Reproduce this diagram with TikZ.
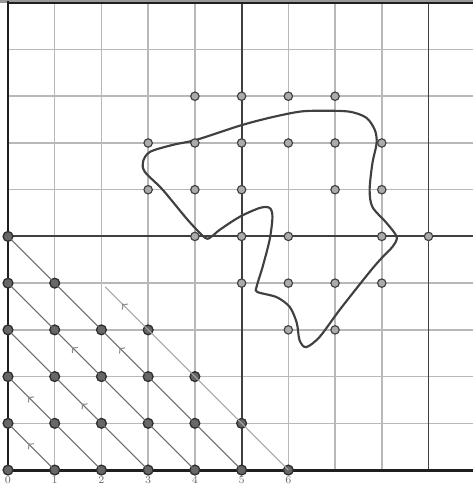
\documentclass[tikz,border=0pt]{standalone}
\usetikzlibrary{arrows}
\usetikzlibrary{decorations.markings}

\begin{document}
\begin{tikzpicture}
	\tikzstyle{thin line}=[draw=black!28, line width=0.95pt]
	\tikzstyle{dark line}=[draw=black!75, line width=1.15pt]
	\tikzstyle{axis}=[draw=black!88, line width=1.8pt]
	\tikzstyle{diag}=[draw=black!58, line width=0.65pt]
	\tikzstyle{lat}=[circle, draw=black!82, fill=black!60, line width=0.8pt, inner sep=0pt, minimum size=2.1mm]
	\tikzstyle{near}=[circle, draw=black!75, fill=black!33, line width=0.7pt, inner sep=0pt, minimum size=1.8mm]
	\tikzstyle{tick}=[font=\fontsize{6.5}{7}\selectfont, text=black!60, inner sep=0pt]
	\tikzstyle{blob}=[draw=black!75, line width=1.3pt]
	\tikzstyle{back}=[postaction={decorate}, decoration={markings, mark=at position #1 with {\arrow[black!45, scale=1.2]{<}}}]

	\useasboundingbox (-0.171,-0.32) rectangle (9.96,10.06);

	% grid
	\foreach \i in {1,2,3,4,6,7,8}
		\draw[thin line] (\i,0) -- (\i,10);
	\foreach \j in {1,2,3,4,6,7,8,9}
		\draw[thin line] (0,\j) -- (9.96,\j);
	\draw[dark line] (5,0) -- (5,10);
	\draw[dark line] (9,0) -- (9,10);
	\draw[dark line] (0,5) -- (9.96,5);
	\fill[black!40] (-0.171,10) rectangle (9.96,10.06);
	\draw[axis] (0,0) -- (9.96,0);
	\draw[axis] (0,-0.1) -- (0,10.03);
	\draw[axis, line width=1.2pt] (0,10) -- (9.96,10);

	% lattice points under the diagonal
	\foreach \j/\n in {0/6,1/5,2/4,3/3,4/1,5/0}
		\foreach \i in {0,...,\n}
			\node[lat] (p-\i-\j) at (\i,\j) {};

	\foreach \i in {0,...,6}
		\node[tick] (l\i) at (\i,-0.21) {\i};

	% diagonals
	\draw[diag, back=0.5] (p-0-1.center) -- (p-1-0.center);
	\draw[diag, back=0.25] (p-0-2.center) -- (p-2-0.center);
	\draw[diag, back=0.55] (p-0-3.center) -- (p-3-0.center);
	\draw[diag, back=0.36] (p-0-4.center) -- (p-4-0.center);
	\draw[diag, back=0.49] (p-0-5.center) -- (p-5-0.center);
	\coordinate (s6) at (2.08,3.92);
	\draw[diag, draw=black!35, back=0.11] (s6) -- (p-6-0.center);

	% the region
	\draw[blob] plot[smooth cycle, tension=0.5] coordinates {
		(4.22,4.97) (3.85,5.35) (3.31,6.00) (2.93,6.38) (2.89,6.60)
		(3.04,6.81) (3.53,6.96) (4.04,7.07) (4.96,7.37) (5.60,7.54)
		(6.24,7.67) (6.73,7.69) (7.31,7.67) (7.67,7.54) (7.85,7.28)
		(7.89,7.00) (7.80,6.57) (7.74,6.00) (7.80,5.63) (8.10,5.29)
		(8.32,4.99) (8.23,4.78) (8.00,4.54) (7.74,4.24) (7.10,3.43)
		(6.67,2.85) (6.38,2.63) (6.24,2.78) (6.18,3.15) (6.03,3.49)
		(5.75,3.70) (5.34,3.81) (5.32,3.92) (5.45,4.35) (5.60,4.93)
		(5.66,5.42) (5.60,5.61) (5.39,5.61) (4.96,5.42) (4.53,5.14)
		(4.36,5.00)};

	% lattice points near the region
	\foreach \i/\j in {4/8,5/8,6/8,7/8,
			3/7,4/7,5/7,6/7,7/7,8/7,
			3/6,4/6,5/6,7/6,8/6,
			4/5,5/5,6/5,8/5,9/5,
			5/4,6/4,7/4,8/4,
			6/3,7/3}
		\node[near] (q-\i-\j) at (\i,\j) {};
\end{tikzpicture}
\end{document}
